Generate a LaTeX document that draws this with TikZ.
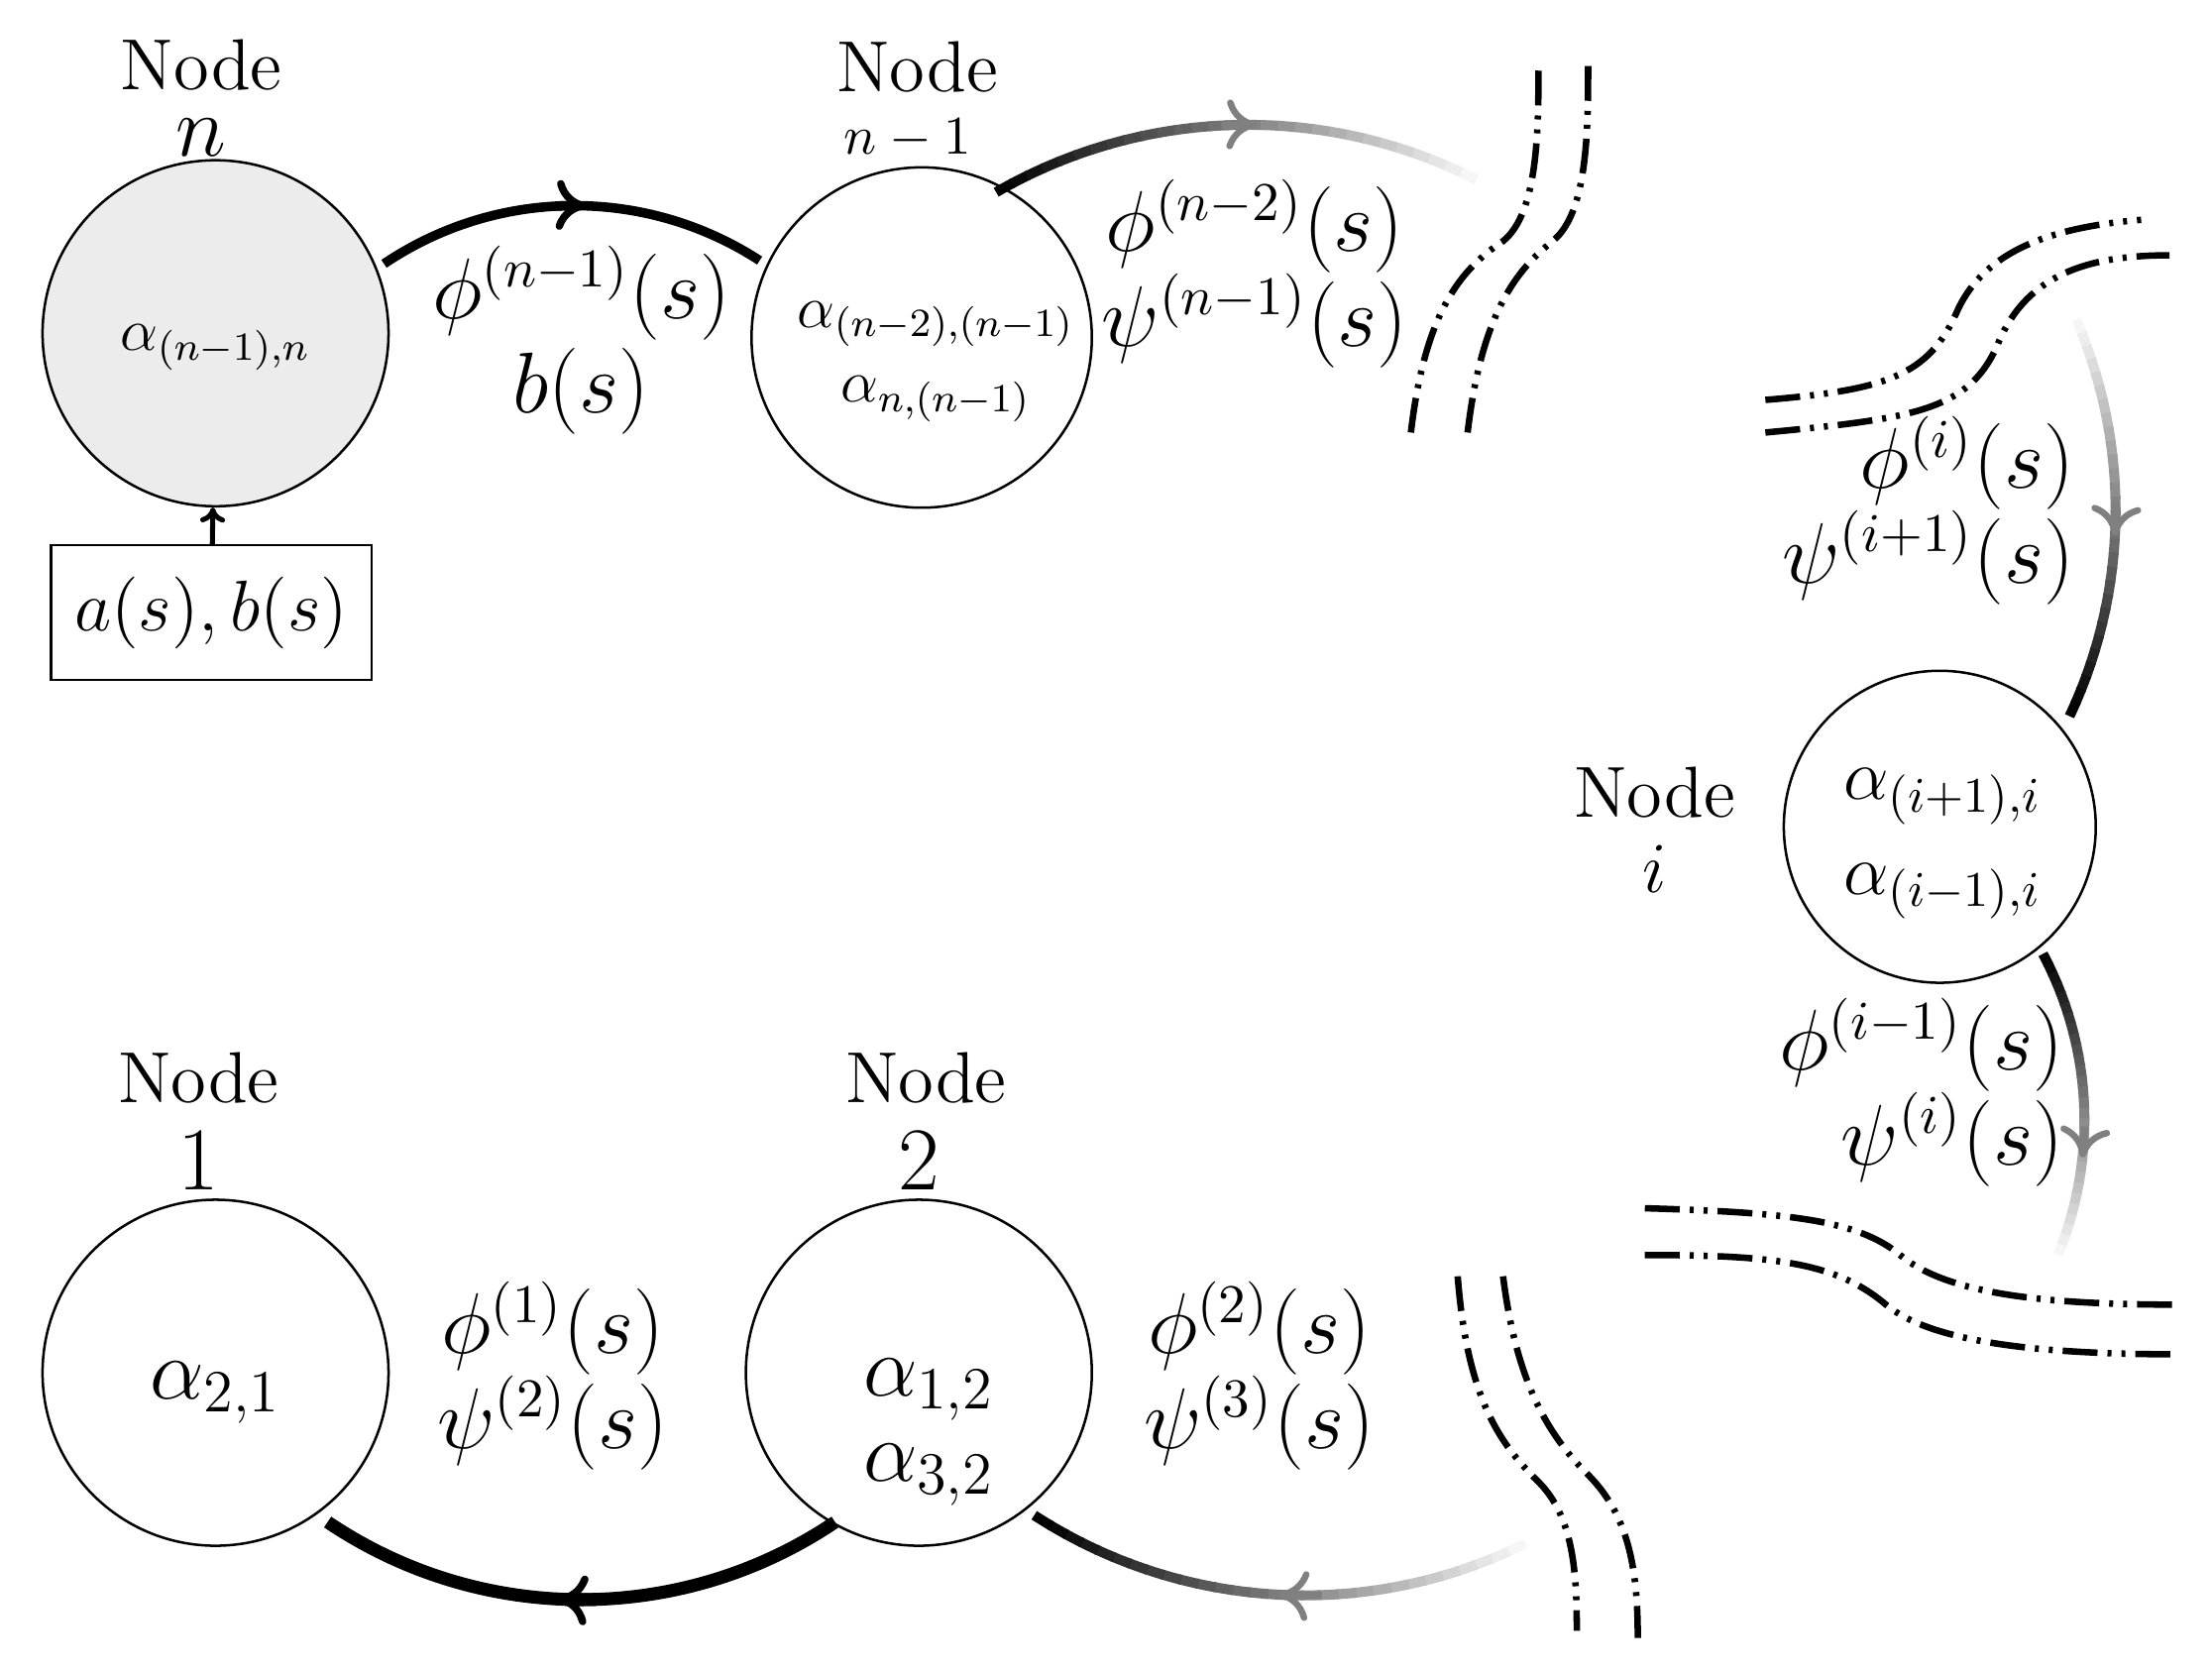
\documentclass[tikz,border=0pt]{standalone}
\usetikzlibrary{calc,arrows.meta}
\newcommand\gradarc[6]{%
\foreach \k in {0,...,29}{%
 \pgfmathsetmacro\aa{#3+(#4-#3)*\k/30}%
 \pgfmathsetmacro\ab{#3+(#4-#3)*(\k+1.15)/30}%
 \pgfmathsetmacro\cc{#5+(#6-#5)*\k/29}%
 \draw[line width=2pt, black!\cc] ($(#1)+(\aa:#2)$) arc[start angle=\aa, end angle=\ab, radius=#2];
}}
\begin{document}
\begin{tikzpicture}[
  circ/.style={circle, draw, line width=0.5pt, minimum size=#1, inner sep=0pt},
  lab/.style={font=\fontsize{14.5}{17}\selectfont, align=center, inner sep=0pt},
  brk/.style={line width=1.3pt, dash pattern=on 7pt off 2pt on 0.8pt off 2pt on 0.8pt off 2pt},
  blk/.style={line width=1.9pt, -{To[length=6pt,width=10pt,line width=1.5pt]}},
  gar/.style={gray, line width=1.5pt, -{To[length=6pt,width=10pt,line width=1.3pt]}}]
\useasboundingbox (0,0) rectangle (15.6,-11.8);
% nodes
\node[circ=2.44cm, fill=gray!15] (nN) at (1.52,-2.35) {};
\node[lab, font=\fontsize{12}{14}\selectfont] at (1.52,-2.45) {$\alpha_{(n-1),n}$};
\node[lab] at (1.42,-0.46) {Node};
\node[lab, font=\fontsize{17}{17}\selectfont] at (1.42,-0.97) {$n$};
\node[draw, line width=0.5pt, minimum width=2.26cm, minimum height=0.95cm, lab, font=\fontsize{15}{18}\selectfont] (box) at (1.49,-4.32) {$a(s),b(s)$};
\draw[line width=1pt, -{To[length=3pt,width=5pt]}] (box) -- (nN);

\node[circ=2.4cm] (nN1) at (6.5,-2.38) {};
\node[lab, font=\fontsize{11.5}{13}\selectfont] at (6.6,-2.55) {$\alpha_{(n-2),(n-1)}$\\[2pt]$\alpha_{n,(n-1)}$};
\node[lab] at (6.47,-0.47) {Node};
\node[lab, font=\fontsize{11}{13}\selectfont] at (6.4,-0.98) {$n-1$};

\node[circ=2.2cm] (nI) at (13.68,-5.83) {};
\node[lab] at (13.7,-5.95) {$\alpha_{(i+1),i}$\\[2pt]$\alpha_{(i-1),i}$};
\node[lab] at (11.67,-5.85) {Node\\[-2pt]$i$};

\node[circ=2.44cm] (n1) at (1.52,-9.68) {};
\node[lab, font=\fontsize{17}{19}\selectfont] at (1.52,-9.82) {$\alpha_{2,1}$};
\node[lab] at (1.4,-7.6) {Node};
\node[lab, font=\fontsize{18}{18}\selectfont] at (1.4,-8.18) {1};

\node[circ=2.44cm] (n2) at (6.48,-9.68) {};
\node[lab, font=\fontsize{17}{19}\selectfont] at (6.55,-10.1) {$\alpha_{1,2}$\\[-2pt]$\alpha_{3,2}$};
\node[lab] at (6.53,-7.6) {Node};
\node[lab, font=\fontsize{18}{18}\selectfont] at (6.48,-8.18) {2};

% edge labels
\node[lab, font=\fontsize{16}{19}\selectfont] at (4.1,-2.4) {$\phi^{(n-1)}(s)$\\$b(s)$};
\node[lab, font=\fontsize{16}{19}\selectfont] at (8.85,-1.93) {$\phi^{(n-2)}(s)$\\$\psi^{(n-1)}(s)$};
\node[lab, font=\fontsize{16}{19}\selectfont] at (13.6,-3.6) {$\phantom{\psi^{(i+1)}}\llap{$\phi^{(i)}$}(s)$\\$\psi^{(i+1)}(s)$};
\node[lab, font=\fontsize{16}{19}\selectfont] at (13.55,-7.7) {$\phi^{(i-1)}(s)$\\$\phantom{\phi^{(i-1)}}\llap{$\psi^{(i)}$}(s)$};
\node[lab, font=\fontsize{16}{19}\selectfont] at (3.9,-9.7) {$\phi^{(1)}(s)$\\$\psi^{(2)}(s)$};
\node[lab, font=\fontsize{16}{19}\selectfont] at (8.88,-9.7) {$\phi^{(2)}(s)$\\$\psi^{(3)}(s)$};

% black arcs
\coordinate (cA) at (4.05,-3.85);
\draw[line width=1.9pt] ($(cA)+(124:2.4cm)$) arc[start angle=124,end angle=57,radius=2.4cm];
\draw[blk] ($(cA)+(93:2.4cm)$) arc[start angle=93,end angle=88,radius=2.4cm];
\coordinate (cB) at (4.1,-8.08);
\draw[line width=2.6pt] ($(cB)+(-56:3.2cm)$) arc[start angle=-56,end angle=-124,radius=3.2cm];
\draw[blk, line width=2.6pt] ($(cB)+(-88:3.2cm)$) arc[start angle=-88,end angle=-93,radius=3.2cm];

% gradient arcs
\coordinate (g1) at (8.8,-4.43);
\gradarc{g1}{3.55cm}{120}{61}{100}{0}
\draw[gar] ($(g1)+(93:3.55cm)$) arc[start angle=93,end angle=89,radius=3.55cm];
\coordinate (g2) at (11.52,-3.6);
\gradarc{g2}{3.4cm}{25}{-25}{0}{100}
\draw[gar] ($(g2)+(1:3.4cm)$) arc[start angle=1,end angle=-3,radius=3.4cm];
\coordinate (g3) at (12.2,-7.9);
\gradarc{g3}{2.5cm}{28}{-24}{100}{0}
\draw[gar] ($(g3)+(-1:2.5cm)$) arc[start angle=-1,end angle=-6,radius=2.5cm];
\coordinate (g4) at (9.2,-7.75);
\gradarc{g4}{3.5cm}{-61.6}{-122.7}{0}{100}
\draw[gar] ($(g4)+(-88:3.5cm)$) arc[start angle=-88,end angle=-93,radius=3.5cm];

% break marks
\draw[brk] (9.95,-3.05) .. controls (10.05,-2.2) and (10.3,-1.9) .. (10.6,-1.7) .. controls (10.85,-1.5) and (10.85,-0.9) .. (10.85,-0.45);
\draw[brk] (10.35,-3.05) .. controls (10.45,-2.2) and (10.7,-1.9) .. (10.95,-1.7) .. controls (11.2,-1.5) and (11.2,-0.9) .. (11.2,-0.45);
\draw[brk] (12.45,-2.82) .. controls (13.3,-2.75) and (13.6,-2.65) .. (13.8,-2.2) .. controls (14,-1.75) and (14.5,-1.6) .. (15.1,-1.55);
\draw[brk] (12.45,-3.05) .. controls (13.5,-2.95) and (13.9,-2.9) .. (14.1,-2.4) .. controls (14.3,-1.95) and (14.7,-1.8) .. (15.3,-1.8);
\draw[brk] (11.6,-8.52) .. controls (12.6,-8.55) and (13.1,-8.6) .. (13.4,-8.85) .. controls (13.7,-9.1) and (14.3,-9.2) .. (15.35,-9.2);
\draw[brk] (11.6,-8.85) .. controls (12.5,-8.85) and (12.95,-8.9) .. (13.3,-9.2) .. controls (13.6,-9.45) and (14.3,-9.55) .. (15.35,-9.55);
\draw[brk] (10.28,-9.0) .. controls (10.35,-9.9) and (10.6,-10.2) .. (10.85,-10.45) .. controls (11.1,-10.7) and (11.12,-11.1) .. (11.12,-11.5);
\draw[brk] (10.6,-9.0) .. controls (10.7,-9.8) and (10.95,-10.15) .. (11.2,-10.4) .. controls (11.5,-10.7) and (11.55,-11.1) .. (11.55,-11.55);
\end{tikzpicture}
\end{document}
